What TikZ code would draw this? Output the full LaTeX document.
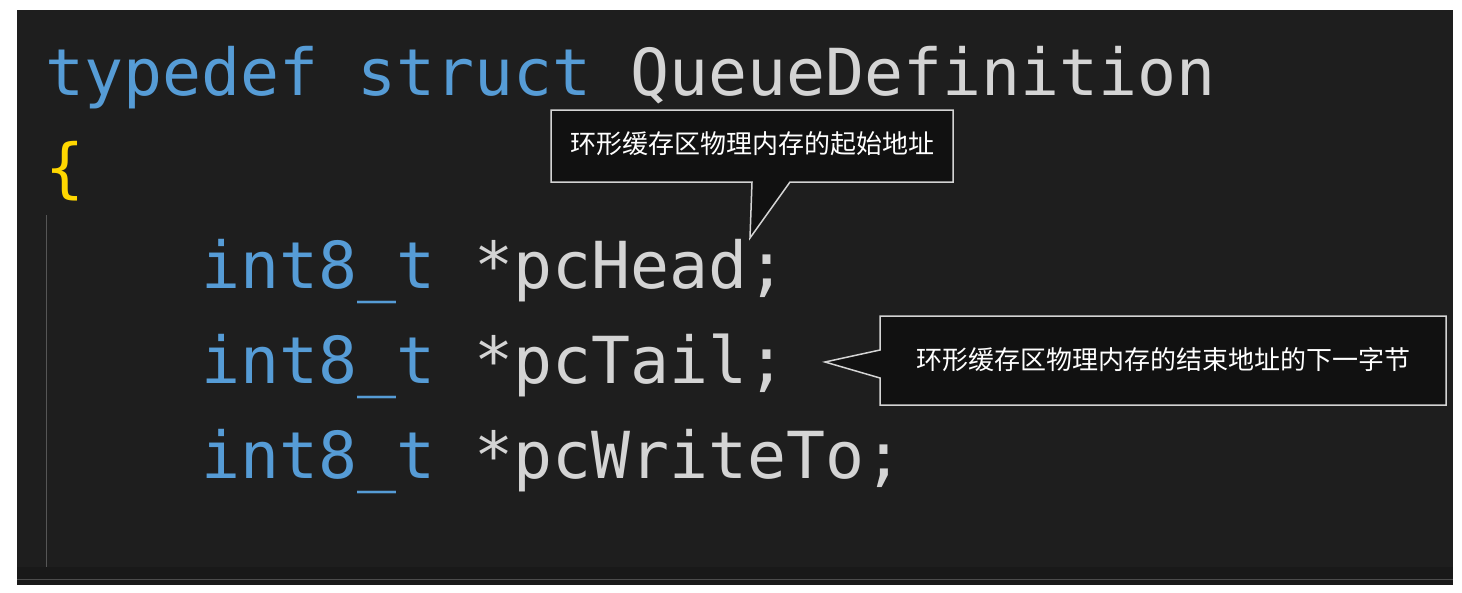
\documentclass[tikz,border=0pt]{standalone}
\usepackage{fontspec}
\setmonofont{DejaVu Sans Mono}
\newfontfamily\cjk{Noto Sans CJK SC}
\definecolor{editorbg}{HTML}{1E1E1E}
\definecolor{kwblue}{HTML}{569CD6}
\definecolor{codegray}{HTML}{D4D4D4}
\definecolor{bracegold}{HTML}{FFD700}
\definecolor{tipbg}{HTML}{111111}
\tikzset{
  codeline/.style={anchor=base west, inner sep=0pt, font=\ttfamily\fontsize{64.8}{70}\selectfont},
  tiptext/.style={inner sep=0pt, text=white, font=\cjk\fontsize{26}{30}\selectfont},
  tipbox/.style={fill=tipbg, draw=codegray, line width=1.5pt},
}
\begin{document}
\begin{tikzpicture}[x=1pt,y=-1pt]
      \useasboundingbox (0,0) rectangle (1462,592);
      \fill[white] (0,0) rectangle (1462,592);
      \fill[editorbg] (17,10) rectangle (1453,585);
      % bottom strip and indent guide
      \fill[black!90] (17,567) rectangle (1453,585);
      \draw[black!70, line width=1pt] (17,579) -- (1453,579);
      \draw[white!25!editorbg, line width=1pt] (46,215) -- (46,567);

      \node[codeline](l1) at (45,95){\textcolor{kwblue}{typedef struct} \textcolor{codegray}{QueueDefinition}};
      \node[codeline](l2) at (45,190){\textcolor{bracegold}{\{}};
      \node[codeline](l3) at (45,288){\phantom{xxxx}\textcolor{kwblue}{int8\_t} \textcolor{codegray}{*pcHead;}};
      \node[codeline](l4) at (45,383){\phantom{xxxx}\textcolor{kwblue}{int8\_t} \textcolor{codegray}{*pcTail;}};
      \node[codeline](l5) at (45,478){\phantom{xxxx}\textcolor{kwblue}{int8\_t} \textcolor{codegray}{*pcWriteTo;}};

      % callouts
      \draw[tipbox] (551,110) -- (953,110) -- (953,182) -- (790,182) -- (750,238) -- (752,182) -- (551,182) -- cycle;
      \node[tiptext](head) at (752,144){环形缓存区物理内存的起始地址};
      \draw[tipbox] (880,316) -- (1446,316) -- (1446,405) -- (880,405) -- (880,378) -- (825,362) -- (880,350) -- cycle;
      \node[tiptext](tail) at (1163,360){环形缓存区物理内存的结束地址的下一字节};
\end{tikzpicture}
\end{document}
